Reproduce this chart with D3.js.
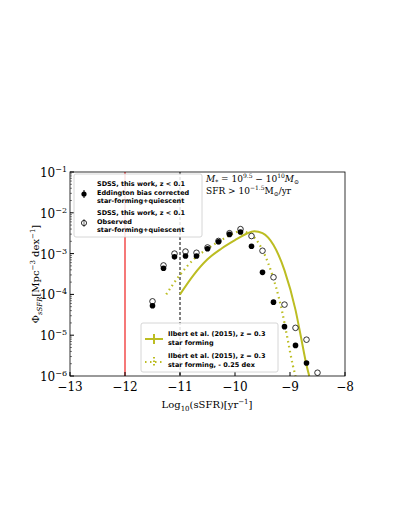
<!DOCTYPE html>
<html><head><meta charset="utf-8">
<script src="https://cdn.jsdelivr.net/npm/d3@7"></script>
<style>body{margin:0;background:#fff}</style>
</head><body>
<div id="chart"></div>
<script>
// bin centres, log10 sSFR
var xBins = [-11.5,-11.3,-11.1,-10.9,-10.7,-10.5,-10.3,-10.1,-9.9,-9.7,-9.5,-9.3,-9.1,-8.9,-8.7,-8.5];
// log10 Phi, Eddington bias corrected (filled)
var corrected = [-4.28,-3.36,-3.08,-3.06,-3.06,-2.88,-2.71,-2.53,-2.47,-2.82,-3.46,-4.19,-4.79,-5.25,-5.68,null];
// log10 Phi, observed (open)
var observed = [-4.17,-3.29,-3.0,-2.95,-2.98,-2.85,-2.69,-2.5,-2.4,-2.57,-2.93,-3.58,-4.25,-4.82,-5.11,-5.92];
// Ilbert et al. (2015) star forming curve
var ilbertX = [-11,-10.75,-10.5,-10.25,-10,-9.8,-9.65,-9.5,-9.3,-9.1,-8.9,-8.8,-8.7,-8.65];
var ilbertY = [-4.0,-3.52,-3.14,-2.88,-2.67,-2.52,-2.45,-2.5,-2.79,-3.41,-4.38,-5.05,-5.73,-6.0];
var shiftDex = -0.25;
var xTicks = [-13,-12,-11,-10,-9,-8];
var yTicks = [-1,-2,-3,-4,-5,-6];

var W = 400, H = 517;
var svg = d3.select("#chart").append("svg").attr("width", W).attr("height", H);
var x = d3.scaleLinear().domain([-13, -8]).range([70, 345]);
var y = d3.scaleLinear().domain([-6, -1]).range([376, 172]);
var olive = "#bcbd22";

// red and dashed vertical lines
svg.append("line").attr("x1", x(-12)).attr("x2", x(-12)).attr("y1", y(-1)).attr("y2", y(-6))
  .attr("stroke", "#f03030").attr("stroke-width", 1.3);
svg.append("line").attr("x1", x(-11)).attr("x2", x(-11)).attr("y1", y(-1)).attr("y2", y(-6))
  .attr("stroke", "#000").attr("stroke-width", 1).attr("stroke-dasharray", "3,2");

var line = d3.line().curve(d3.curveMonotoneX);
var solidPts = ilbertX.map(function(v, i){ return [x(v), y(ilbertY[i])]; });
var dotPts = ilbertX.map(function(v, i){ return [x(v + shiftDex), y(ilbertY[i])]; });
svg.append("path").attr("d", line(solidPts)).attr("fill", "none").attr("stroke", olive).attr("stroke-width", 2);
svg.append("path").attr("d", line(dotPts)).attr("fill", "none").attr("stroke", olive)
  .attr("stroke-width", 2.2).attr("stroke-dasharray", "1.5,3.5");

// points
xBins.forEach(function(v, i){
  if (observed[i] !== null)
    svg.append("circle").attr("cx", x(v)).attr("cy", y(observed[i])).attr("r", 2.8)
      .attr("fill", "#fff").attr("stroke", "#000").attr("stroke-width", 0.8);
  if (corrected[i] !== null)
    svg.append("circle").attr("cx", x(v)).attr("cy", y(corrected[i])).attr("r", 2.8).attr("fill", "#000");
});

// frame
svg.append("rect").attr("x", 70).attr("y", 172).attr("width", 275).attr("height", 204)
  .attr("fill", "none").attr("stroke", "#000").attr("stroke-width", 0.8);

var serif = "'DejaVu Serif', serif";
xTicks.forEach(function(t){
  svg.append("line").attr("x1", x(t)).attr("x2", x(t)).attr("y1", 376).attr("y2", 372).attr("stroke", "#000");
  svg.append("text").attr("x", x(t)).attr("y", 391).attr("text-anchor", "middle")
    .attr("font-family", serif).attr("font-size", 12).text("\u2212" + Math.abs(t));
});
yTicks.forEach(function(t){
  svg.append("line").attr("x1", 70).attr("x2", 74).attr("y1", y(t)).attr("y2", y(t)).attr("stroke", "#000");
  var tx = svg.append("text").attr("x", 67).attr("y", y(t) + 5).attr("text-anchor", "end")
    .attr("font-family", serif).attr("font-size", 12);
  tx.append("tspan").text("10");
  tx.append("tspan").attr("dy", -5).attr("font-size", 8).text("\u2212" + Math.abs(t));
});
// minor y ticks
d3.range(-6, -1).forEach(function(d){
  d3.range(2, 10).forEach(function(m){
    var v = d + Math.log10(m);
    svg.append("line").attr("x1", 70).attr("x2", 72).attr("y1", y(v)).attr("y2", y(v)).attr("stroke", "#000").attr("stroke-width", 0.5);
  });
});

var xl = svg.append("text").attr("x", 207).attr("y", 408).attr("text-anchor", "middle")
  .attr("font-family", serif).attr("font-size", 10);
xl.append("tspan").text("Log");
xl.append("tspan").attr("dy", 3).attr("font-size", 7).text("10");
xl.append("tspan").attr("dy", -3).text("(sSFR)[yr");
xl.append("tspan").attr("dy", -4).attr("font-size", 7).text("\u22121");
xl.append("tspan").attr("dy", 4).text("]");

var yl = svg.append("text").attr("transform", "translate(39,274) rotate(-90)").attr("text-anchor", "middle")
  .attr("font-family", serif).attr("font-size", 10);
yl.append("tspan").text("\u03a6");
yl.append("tspan").attr("dy", 3).attr("font-size", 7).attr("font-style", "italic").text("sSFR");
yl.append("tspan").attr("dy", -3).text("[Mpc");
yl.append("tspan").attr("dy", -4).attr("font-size", 7).text("\u22123");
yl.append("tspan").attr("dy", 4).text(" dex");
yl.append("tspan").attr("dy", -4).attr("font-size", 7).text("\u22121");
yl.append("tspan").attr("dy", 4).text("]");

// annotation
var a1 = svg.append("text").attr("x", 206).attr("y", 182).attr("font-family", serif).attr("font-size", 9);
a1.append("tspan").attr("font-style", "italic").text("M");
a1.append("tspan").attr("dy", 2).attr("font-size", 6).text("*");
a1.append("tspan").attr("dy", -2).text(" = 10");
a1.append("tspan").attr("dy", -4).attr("font-size", 6).text("9.5");
a1.append("tspan").attr("dy", 4).text(" \u2212 10");
a1.append("tspan").attr("dy", -4).attr("font-size", 6).text("10");
a1.append("tspan").attr("dy", 4).attr("font-style", "italic").text("M");
a1.append("tspan").attr("dy", 2).attr("font-size", 6).text("\u2299");
var a2 = svg.append("text").attr("x", 206).attr("y", 194).attr("font-family", serif).attr("font-size", 9);
a2.append("tspan").text("SFR > 10");
a2.append("tspan").attr("dy", -4).attr("font-size", 6).text("\u22121.5");
a2.append("tspan").attr("dy", 4).text("M");
a2.append("tspan").attr("dy", 2).attr("font-size", 6).text("\u2299");
a2.append("tspan").attr("dy", -2).text("/yr");

// legends
var sans = "'DejaVu Sans', sans-serif";
function legendBox(x0, y0, w, h){
  svg.append("rect").attr("x", x0).attr("y", y0).attr("width", w).attr("height", h).attr("rx", 2)
    .attr("fill", "#fff").attr("fill-opacity", 0.85).attr("stroke", "#ccc").attr("stroke-width", 0.8);
}
function legendText(x0, y0, lines){
  lines.forEach(function(l, i){
    svg.append("text").attr("x", x0).attr("y", y0 + i * 8.5).attr("font-family", sans)
      .attr("font-size", 6.5).attr("font-weight", 600).text(l);
  });
}
legendBox(74, 174, 128, 63);
svg.append("circle").attr("cx", 84).attr("cy", 194).attr("r", 2.6).attr("fill", "#000");
svg.append("line").attr("x1", 84).attr("x2", 84).attr("y1", 190).attr("y2", 198).attr("stroke", "#000");
legendText(97, 186, ["SDSS, this work, z < 0.1", "Eddington bias corrected", "star-forming+quiescent"]);
svg.append("circle").attr("cx", 84).attr("cy", 223).attr("r", 2.6).attr("fill", "#fff").attr("stroke", "#000").attr("stroke-width", 0.8);
svg.append("line").attr("x1", 84).attr("x2", 84).attr("y1", 219).attr("y2", 227).attr("stroke", "#000").attr("stroke-width", 0.6);
legendText(97, 215, ["SDSS, this work, z < 0.1", "Observed", "star-forming+quiescent"]);

legendBox(141, 323, 137, 49);
svg.append("line").attr("x1", 145).attr("x2", 163).attr("y1", 339).attr("y2", 339).attr("stroke", olive).attr("stroke-width", 2);
svg.append("line").attr("x1", 154).attr("x2", 154).attr("y1", 334).attr("y2", 344).attr("stroke", olive).attr("stroke-width", 2);
legendText(168, 336, ["Ilbert et al. (2015), z = 0.3", "star forming"]);
svg.append("line").attr("x1", 145).attr("x2", 163).attr("y1", 362).attr("y2", 362).attr("stroke", olive).attr("stroke-width", 2.2).attr("stroke-dasharray", "1.5,3.5");
svg.append("line").attr("x1", 154).attr("x2", 154).attr("y1", 357).attr("y2", 367).attr("stroke", olive).attr("stroke-width", 2).attr("stroke-dasharray", "1.5,2");
legendText(168, 358, ["Ilbert et al. (2015), z = 0.3", "star forming, - 0.25 dex"]);
</script>
</body></html>
